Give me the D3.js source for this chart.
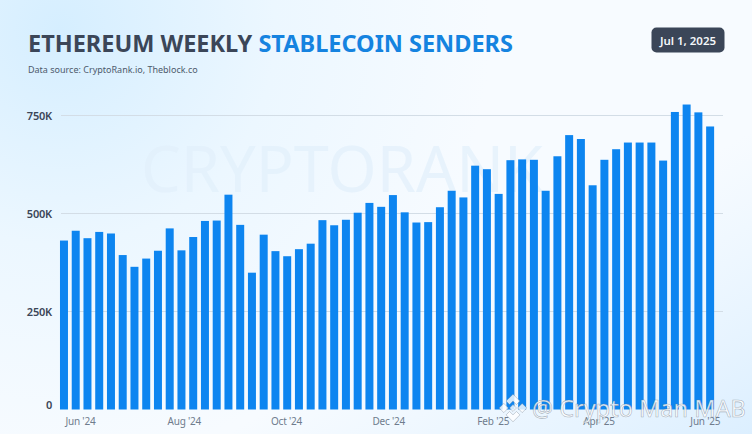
<!DOCTYPE html>
<html>
<head>
<meta charset="utf-8">
<script src="https://cdn.jsdelivr.net/npm/d3@7"></script>
<style>
html, body { margin: 0; padding: 0; overflow: hidden; }
text { font-family: "Noto Sans", sans-serif; }
</style>
</head>
<body>
<div id="chart"></div>
<script>
// weekly senders, in thousands
var senders = [431, 456, 437, 453, 449, 394, 364, 385, 405, 462, 406, 440, 481, 482, 548, 471, 349, 446, 404, 391, 409, 423, 483, 470, 484, 502, 527, 517, 547, 503, 477, 478, 516, 558, 541, 622, 613, 550, 636, 638, 637, 558, 646, 700, 690, 572, 637, 664, 681, 681, 681, 635, 759, 778, 758, 722];
var weeks = d3.range(senders.length);

var yTicks = [0, 250, 500, 750];
var yTickLabels = ["0", "250K", "500K", "750K"];
var xTickWeeks = [1.36, 10.2, 18.9, 27.6, 36.5, 45.5, 54.55];
var xTickLabels = ["Jun '24", "Aug '24", "Oct '24", "Dec '24", "Feb '25", "Apr '25", "Jun '25"];

var svgWidth = 752;
var svgHeight = 434;

var svg = d3.select('#chart')
    .append('svg')
    .attr('width', svgWidth)
    .attr('height', svgHeight)
    .style('display', 'block');

// Background wash, brightest blue in the top left corner
var defs = svg.append('defs');
var wash = defs.append('radialGradient')
    .attr('id', 'wash')
    .attr('gradientUnits', 'userSpaceOnUse')
    .attr('cx', 60).attr('cy', 30).attr('r', 430);
wash.append('stop').attr('offset', '0%').attr('stop-color', '#d5eeff');
wash.append('stop').attr('offset', '50%').attr('stop-color', '#ecf7ff');
wash.append('stop').attr('offset', '100%').attr('stop-color', '#f7fbff');

var washEnd = defs.append('linearGradient')
    .attr('id', 'washEnd')
    .attr('x1', 0).attr('y1', 0).attr('x2', 1).attr('y2', 1);
washEnd.append('stop').attr('offset', '65%').attr('stop-color', '#e2f2ff').attr('stop-opacity', 0);
washEnd.append('stop').attr('offset', '100%').attr('stop-color', '#dcefff').attr('stop-opacity', 1);

svg.append('rect').attr('width', svgWidth).attr('height', svgHeight).attr('fill', 'url(#wash)');
svg.append('rect').attr('width', svgWidth).attr('height', svgHeight).attr('fill', 'url(#washEnd)');

// Scales
var yScale = d3.scaleLinear().domain([0, 750]).range([409.5, 115.5]);
var xScale = d3.scaleBand().domain(weeks).range([58.1, 716]).paddingInner(0.32).paddingOuter(0.16);
var xTickScale = d3.scaleLinear()
    .domain([0, senders.length - 1])
    .range([xScale(0) + xScale.bandwidth() / 2, xScale(senders.length - 1) + xScale.bandwidth() / 2]);

// Watermark
svg.append('text')
    .attr('x', 141).attr('y', 192)
    .attr('font-size', 63)
    .attr('font-weight', 400)
    .attr('fill', '#e2f0fc')
    .attr('opacity', 0.7)
    .text('CRYPTORANK');

// Grid lines
svg.append('g').selectAll('line')
    .data(yTicks.slice(1))
    .enter()
    .append('line')
    .attr('x1', 61).attr('x2', 723)
    .attr('y1', d => yScale(d)).attr('y2', d => yScale(d))
    .attr('stroke', '#d3dde6')
    .attr('stroke-width', 1);

// Bars
svg.append('g').selectAll('rect')
    .data(senders)
    .enter()
    .append('rect')
    .attr('x', (d, i) => xScale(i))
    .attr('y', d => yScale(d))
    .attr('width', xScale.bandwidth())
    .attr('height', d => yScale(0) - yScale(d))
    .attr('fill', '#0d85f0');

// Y axis labels
var yAxis = d3.axisLeft(yScale)
    .tickValues(yTicks)
    .tickFormat((d, i) => yTickLabels[i])
    .tickSize(0)
    .tickPadding(0);
var yAxisG = svg.append('g').attr('transform', 'translate(52,0)').call(yAxis);
yAxisG.select('.domain').remove();
yAxisG.selectAll('text')
    .attr('font-size', 11)
    .attr('font-weight', 600)
    .attr('letter-spacing', -0.2)
    .attr('fill', '#3b4658')
    .style('font-family', '"Noto Sans", sans-serif');
// the zero label sits a little above the baseline
yAxisG.selectAll('.tick').filter(d => d === 0).select('text').attr('y', -5);

// X axis labels
var xAxis = d3.axisBottom(xTickScale)
    .tickValues(xTickWeeks)
    .tickFormat((d, i) => xTickLabels[i])
    .tickSize(0)
    .tickPadding(0);
var xAxisG = svg.append('g').attr('transform', 'translate(0,418)').call(xAxis);
xAxisG.select('.domain').remove();
xAxisG.selectAll('text')
    .attr('font-size', 10)
    .attr('letter-spacing', -0.2)
    .attr('fill', '#6f7c8d')
    .style('font-family', '"Noto Sans", sans-serif');

// Title
var title = svg.append('text')
    .attr('x', 28).attr('y', 52)
    .attr('font-size', 23.5)
    .attr('font-weight', 700);
title.append('tspan').attr('fill', '#3b4658').text('ETHEREUM WEEKLY ');
title.append('tspan').attr('fill', '#1583e0').text('STABLECOIN SENDERS');

svg.append('text')
    .attr('x', 28).attr('y', 73)
    .attr('font-size', 9)
    .attr('fill', '#4d5a6c')
    .text('Data source: CryptoRank.io, Theblock.co');

// Date badge
svg.append('rect')
    .attr('x', 651.5).attr('y', 27.5)
    .attr('width', 73).attr('height', 25)
    .attr('rx', 5)
    .attr('fill', '#3b4658');
svg.append('text')
    .attr('x', 688).attr('y', 45)
    .attr('text-anchor', 'middle')
    .attr('font-size', 11.5)
    .attr('font-weight', 600)
    .attr('fill', '#f4f7fa')
    .text('Jul 1, 2025');

// Overlay mark in the bottom right corner
var mark = svg.append('g').attr('transform', 'translate(513,408) scale(1.15)');
mark.selectAll('path')
    .data(['M0,-12L6,-6L3,-3L0,-6L-3,-3L-6,-6Z', 'M0,12L6,6L3,3L0,6L-3,3L-6,6Z', 'M-12,0L-8,-4L-4,0L-8,4Z', 'M12,0L8,-4L4,0L8,4Z', 'M0,-3L3,0L0,3L-3,0Z'])
    .enter()
    .append('path')
    .attr('d', d => d)
    .attr('fill', '#ffffff')
    .attr('fill-opacity', 0.8)
    .attr('stroke', '#6f7c8b')
    .attr('stroke-opacity', 0.6)
    .attr('stroke-width', 0.5);
svg.append('text')
    .attr('x', 532).attr('y', 417)
    .attr('font-size', 23.5)
    .attr('fill', '#ffffff')
    .attr('fill-opacity', 0.85)
    .attr('stroke', '#6f7c8b')
    .attr('stroke-opacity', 0.6)
    .attr('stroke-width', 0.6)
    .text('@ Crypto Man MAB');
</script>
</body>
</html>
